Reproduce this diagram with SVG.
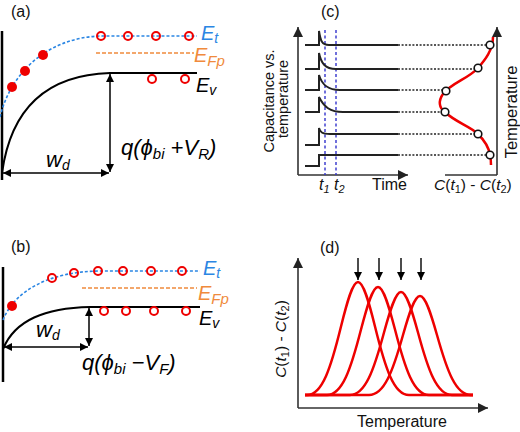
<svg xmlns="http://www.w3.org/2000/svg" width="520" height="432" viewBox="0 0 520 432">
<style>
text{font-family:"Liberation Sans",Arial,sans-serif;}
.lbl{font-size:16px;fill:#111;}
.it{font-style:italic;}
.band{fill:none;stroke:#000;stroke-width:2;}
.et{fill:none;stroke:#2b86e3;stroke-width:1.6;stroke-dasharray:3,2;}
.efp{fill:none;stroke:#f08a3c;stroke-width:1.6;stroke-dasharray:4,2;}
.wall{stroke:#000;stroke-width:2.5;}
.dim{stroke:#000;stroke-width:1.5;marker-start:url(#ah);marker-end:url(#ah);}
.oc{fill:none;stroke:#e00;stroke-width:2;}
.fc{fill:#e00;stroke:none;}
.ax{stroke:#333;stroke-width:1.6;fill:none;}
.axa{stroke:#333;stroke-width:1.6;fill:none;marker-end:url(#ah2);}
.tr{fill:none;stroke:#222;stroke-width:2;}
.dot{stroke:#222;stroke-width:1.4;stroke-dasharray:2,1.6;}
.tl{stroke:#3333cc;stroke-width:1.4;stroke-dasharray:3,2.5;}
.wc{fill:#fff;stroke:#111;stroke-width:1.6;}
.red{fill:none;stroke:#e00;stroke-width:2.5;}
.pk{stroke:#111;stroke-width:1.5;marker-end:url(#ah);}
</style>
<defs>
<marker id="ah" markerUnits="userSpaceOnUse" markerWidth="9" markerHeight="8" refX="8" refY="4" orient="auto-start-reverse"><path d="M0,0 L8,4 L0,8 z" fill="#000"/></marker>
<marker id="ah2" markerUnits="userSpaceOnUse" markerWidth="11" markerHeight="10" refX="10" refY="5" orient="auto"><path d="M0,0 L10,5 L0,10 z" fill="#222"/></marker>
</defs>

<!-- Panel (a) -->
<g id="panel-a">
<text class="lbl" x="11" y="17">(a)</text>
<line class="wall" x1="2" y1="31" x2="2" y2="180"/>
<path class="band" d="M2,173 C10,115 40,75 110,73 H197"/>
<path class="et" d="M0,117 C10,75 45,38 100,36 H197"/>
<line class="efp" x1="96" y1="53" x2="194" y2="53"/>
<circle class="fc" cx="12" cy="87" r="5"/>
<circle class="fc" cx="25" cy="71" r="5"/>
<circle class="fc" cx="43" cy="55" r="5"/>
<circle class="oc" cx="101" cy="36" r="4"/>
<circle class="oc" cx="128" cy="36" r="4"/>
<circle class="oc" cx="156" cy="36" r="4"/>
<circle class="oc" cx="189" cy="36" r="4"/>
<circle class="oc" cx="152" cy="79" r="4"/>
<circle class="oc" cx="185" cy="79" r="4"/>
<line class="dim" x1="110" y1="74" x2="110" y2="172"/>
<line class="dim" x1="3" y1="173" x2="109" y2="173"/>
<text class="it" x="201" y="40" font-size="20" fill="#2b86e3">E<tspan font-size="14" dy="3">t</tspan></text>
<text class="it" x="194" y="62" font-size="20" fill="#f08a3c">E<tspan font-size="15" dy="4">Fp</tspan></text>
<text class="it" x="196" y="92" font-size="20" fill="#000">E<tspan font-size="14" dy="3">v</tspan></text>
<text class="it" x="46" y="167" font-size="22" fill="#000">w<tspan font-size="14" dy="3">d</tspan></text>
<text class="it" x="121" y="155" font-size="22" fill="#000">q(ϕ<tspan font-size="15" dy="4">bi</tspan><tspan dy="-4"> +V</tspan><tspan font-size="15" dy="4">R</tspan><tspan dy="-4">)</tspan></text>
</g>

<!-- Panel (b) -->
<g id="panel-b">
<text class="lbl" x="11" y="252">(b)</text>
<line class="wall" x1="3" y1="267" x2="3" y2="382"/>
<path class="band" d="M3,349 C15,320 45,308 90,307 H200"/>
<path class="et" d="M3,320 C15,290 50,272 98,271 H200"/>
<line class="efp" x1="82" y1="288" x2="197" y2="288"/>
<circle class="fc" cx="12" cy="306" r="5"/>
<circle class="oc" cx="52" cy="278" r="4"/>
<circle class="oc" cx="74" cy="273" r="4"/>
<circle class="oc" cx="98" cy="271" r="4"/>
<circle class="oc" cx="123" cy="271" r="4"/>
<circle class="oc" cx="151" cy="271" r="4"/>
<circle class="oc" cx="182" cy="271" r="4"/>
<circle class="oc" cx="104" cy="311" r="4"/>
<circle class="oc" cx="126" cy="311" r="4"/>
<circle class="oc" cx="154" cy="311" r="4"/>
<circle class="oc" cx="186" cy="311" r="4"/>
<line class="dim" x1="89" y1="308" x2="89" y2="346"/>
<line class="dim" x1="4" y1="347" x2="88" y2="347"/>
<text class="it" x="203" y="275" font-size="20" fill="#2b86e3">E<tspan font-size="14" dy="3">t</tspan></text>
<text class="it" x="198" y="300" font-size="20" fill="#f08a3c">E<tspan font-size="15" dy="4">Fp</tspan></text>
<text class="it" x="199" y="325" font-size="20" fill="#000">E<tspan font-size="14" dy="3">v</tspan></text>
<text class="it" x="36" y="337" font-size="22" fill="#000">w<tspan font-size="14" dy="3">d</tspan></text>
<text class="it" x="82" y="370" font-size="22" fill="#000">q(ϕ<tspan font-size="15" dy="4">bi</tspan><tspan dy="-4"> −V</tspan><tspan font-size="15" dy="4">F</tspan><tspan dy="-4">)</tspan></text>
</g>

<!-- Panel (c) -->
<g id="panel-c">
<text class="lbl" x="321" y="17">(c)</text>
<line class="axa" x1="298" y1="175" x2="298" y2="27"/>
<line class="axa" x1="298" y1="175" x2="408" y2="175"/>
<text transform="translate(274,101) rotate(-90)" text-anchor="middle" font-size="14.5" fill="#111">Capacitance vs.</text>
<text transform="translate(288,99) rotate(-90)" text-anchor="middle" font-size="14.5" fill="#111">temperature</text>
<line class="tl" x1="325" y1="30" x2="325" y2="175"/>
<line class="tl" x1="336" y1="30" x2="336" y2="175"/>
<path class="tr" d="M305,45 H319 V31 C320.5,41 322,45 329,45 H398"/>
<path class="tr" d="M305,69 H319 V53 C321,63 325,69 336,69 H398"/>
<path class="tr" d="M305,90 H319 V75 C322,85 328,90 340,90 H398"/>
<path class="tr" d="M305,112 H319 V97 C324,107 330,112 343,112 H398"/>
<path class="tr" d="M305,145 H319 V128 C320,132 322,134 330,134 H398"/>
<path class="tr" d="M305,166 H319 V155 H398"/>
<line class="dot" x1="398" y1="45" x2="487" y2="45"/>
<line class="dot" x1="398" y1="69" x2="475" y2="69"/>
<line class="dot" x1="398" y1="90" x2="443" y2="90"/>
<line class="dot" x1="398" y1="112" x2="442" y2="112"/>
<line class="dot" x1="398" y1="134" x2="475" y2="134"/>
<line class="dot" x1="398" y1="155" x2="487" y2="155"/>
<line class="axa" x1="497" y1="175" x2="497" y2="27"/>
<line class="ax" x1="445" y1="175" x2="497" y2="175"/>
<path class="red" d="M493,37 C493,50 485,60 478,68 C468,79 451,83 443,94 C438,101 439,108 445,112 C455,122 470,126 478,134 C486,142 489,148 490,155 C491,159 491,162 491,165"/>
<circle class="wc" cx="490" cy="45" r="3.8"/>
<circle class="wc" cx="478" cy="68" r="3.8"/>
<circle class="wc" cx="446" cy="91" r="3.8"/>
<circle class="wc" cx="445" cy="112" r="3.8"/>
<circle class="wc" cx="478" cy="134" r="3.8"/>
<circle class="wc" cx="490" cy="155" r="3.8"/>
<text transform="translate(517,112) rotate(-90)" text-anchor="middle" font-size="16.5" fill="#111">Temperature</text>
<text class="it" x="319" y="190" font-size="16" fill="#111">t<tspan font-size="11" dy="3">1</tspan></text>
<text class="it" x="334" y="190" font-size="16" fill="#111">t<tspan font-size="11" dy="3">2</tspan></text>
<text x="372" y="190" font-size="16" fill="#111">Time</text>
<text x="434" y="190" font-size="15.5" fill="#111"><tspan font-style="italic">C</tspan>(<tspan font-style="italic">t</tspan><tspan font-size="11" dy="3">1</tspan><tspan dy="-3">) - </tspan><tspan font-style="italic">C</tspan>(<tspan font-style="italic">t</tspan><tspan font-size="11" dy="3">2</tspan><tspan dy="-3">)</tspan></text>
</g>

<!-- Panel (d) -->
<g id="panel-d">
<text class="lbl" x="320" y="253">(d)</text>
<line class="axa" x1="298" y1="408" x2="298" y2="258"/>
<line class="axa" x1="298" y1="408" x2="488" y2="408"/>
<text transform="translate(286,339) rotate(-90)" text-anchor="middle" font-size="15.5" fill="#111"><tspan font-style="italic">C</tspan>(<tspan font-style="italic">t</tspan><tspan font-size="11" dy="3">1</tspan><tspan dy="-3">) - </tspan><tspan font-style="italic">C</tspan>(<tspan font-style="italic">t</tspan><tspan font-size="11" dy="3">2</tspan><tspan dy="-3">)</tspan></text>
<text x="402" y="427" text-anchor="middle" font-size="16" fill="#111">Temperature</text>
<path class="red" d="M305,395 H307 C322.3,395 330.9,367.6 341,326.5 C346.7,303.6 352.3,282 358,282 C363.7,282 369.3,303.6 375,326.5 C385.1,367.6 393.7,395 409,395 H473"/>
<path class="red" d="M305,395 H327 C342.3,395 350.9,368.8 361,329.5 C366.7,307.7 372.3,287 378,287 C383.7,287 389.3,307.7 395,329.5 C405.1,368.8 413.7,395 429,395 H473"/>
<path class="red" d="M305,395 H350 C365.3,395 373.9,370 384,332.5 C389.7,311.7 395.3,292 401,292 C406.7,292 412.3,311.7 418,332.5 C428.1,370 436.7,395 452,395 H473"/>
<path class="red" d="M305,395 H369 C384.3,395 392.9,371 403,335 C408.7,314.9 414.3,296 420,296 C425.7,296 431.3,314.9 437,335 C447.1,371 455.7,395 471,395 H473"/>
<line class="pk" x1="358" y1="258" x2="358" y2="280"/>
<line class="pk" x1="379" y1="258" x2="379" y2="280"/>
<line class="pk" x1="401" y1="258" x2="401" y2="280"/>
<line class="pk" x1="421" y1="258" x2="421" y2="280"/>
</g>
</svg>
